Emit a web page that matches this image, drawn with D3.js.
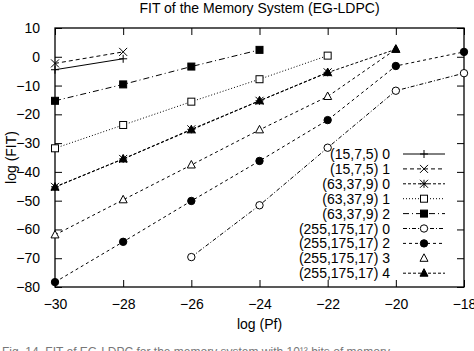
<!DOCTYPE html>
<html>
<head>
<meta charset="utf-8">
<script src="https://cdn.jsdelivr.net/npm/d3@7"></script>
<style>
  body { margin: 0; background: #fff; }
  svg { display: block; font-family: "Liberation Sans", Arial, sans-serif; }
</style>
</head>
<body>
<div id="chart"></div>
<script>
// values
const xTicks = [-30, -28, -26, -24, -22, -20, -18];
const yTicks = [10, 0, -10, -20, -30, -40, -50, -60, -70, -80];

const seriesNames = ["(15,7,5) 0", "(15,7,5) 1", "(63,37,9) 0", "(63,37,9) 1", "(63,37,9) 2",
    "(255,175,17) 0", "(255,175,17) 2", "(255,175,17) 3", "(255,175,17) 4"];

const seriesX = [
    [-30, -28],
    [-30, -28],
    [-30, -28, -26, -24, -22],
    [-30, -28, -26, -24, -22],
    [-30, -28, -26, -24],
    [-26, -24, -22, -20, -18],
    [-30, -28, -26, -24, -22, -20, -18],
    [-30, -28, -26, -24, -22, -20],
    [-30, -28, -26, -24, -22, -20]
];
const seriesY = [
    [-4.5, -0.7],
    [-2.3, 1.7],
    [-45.2, -35.5, -25.2, -15.3, -5.4],
    [-31.8, -23.7, -15.6, -7.8, 0.4],
    [-15.3, -9.6, -3.4, 2.4],
    [-69.6, -51.6, -31.6, -11.8, -5.7],
    [-78.3, -64.3, -50.1, -36.2, -22, -3.2, 1.7],
    [-61.9, -49.7, -37.6, -25.4, -13.8, 2.6],
    [-45.3, -35.5, -25.4, -15.3, -5.5, 2.6]
];

// style per series (gnuplot-ish monochrome)
const markers = ["plus", "cross", "star", "square", "squareFill", "circle", "circleFill", "tri", "triFill"];
const dashes = [null, "4,3", "3,2", "1,2", "6,3,1,3", "4,2,1,2", "3,3", "3,3", "3,2"];
const legendLine = [true, true, true, true, true, true, true, false, true];

const W = 474, H = 351;
const margin = {top: 28, right: 10, bottom: 64, left: 55};
const width = W - margin.left - margin.right,
    height = H - margin.top - margin.bottom;

const svg = d3.select("#chart").append("svg")
    .attr("width", W)
    .attr("height", H);

const x = d3.scaleLinear().domain([-30, -18]).range([margin.left, margin.left + width]);
const y = d3.scaleLinear().domain([-80, 10]).range([margin.top + height, margin.top]);

svg.append("text")
    .attr("x", (margin.left + margin.left + width) / 2)
    .attr("y", 13)
    .attr("text-anchor", "middle")
    .attr("font-size", 14)
    .text("FIT of the Memory System (EG-LDPC)");

// axes: ticks inside, mirrored
const tickLen = 7;
svg.append("g")
    .attr("transform", `translate(0,${margin.top + height})`)
    .call(d3.axisBottom(x).tickValues(xTicks).tickSizeInner(-tickLen).tickSizeOuter(0).tickPadding(12))
    .call(g => g.select(".domain").remove())
    .call(g => g.selectAll("text").attr("font-size", 14).attr("fill", "#000").attr("font-family", null));
svg.append("g")
    .attr("transform", `translate(0,${margin.top})`)
    .call(d3.axisTop(x).tickValues(xTicks).tickSizeInner(-tickLen).tickSizeOuter(0).tickFormat(""))
    .call(g => g.select(".domain").remove());
svg.append("g")
    .attr("transform", `translate(${margin.left},0)`)
    .call(d3.axisLeft(y).tickValues(yTicks).tickSizeInner(-tickLen).tickSizeOuter(0).tickPadding(15))
    .call(g => g.select(".domain").remove())
    .call(g => g.selectAll("text").attr("font-size", 14).attr("fill", "#000").attr("font-family", null));
svg.append("g")
    .attr("transform", `translate(${margin.left + width},0)`)
    .call(d3.axisRight(y).tickValues(yTicks).tickSizeInner(-tickLen).tickSizeOuter(0).tickFormat(""))
    .call(g => g.select(".domain").remove());

svg.append("rect")
    .attr("x", margin.left).attr("y", margin.top)
    .attr("width", width).attr("height", height)
    .attr("fill", "none").attr("stroke", "#000").attr("stroke-width", 1.3);

// axis labels
svg.append("text")
    .attr("x", (margin.left + margin.left + width) / 2)
    .attr("y", 329)
    .attr("text-anchor", "middle")
    .attr("font-size", 14)
    .text("log (Pf)");
svg.append("text")
    .attr("transform", `translate(16,${margin.top + height / 2}) rotate(-90)`)
    .attr("text-anchor", "middle")
    .attr("font-size", 14)
    .text("log (FIT)");

// caption cut off at the bottom
svg.append("text")
    .attr("x", 2)
    .attr("y", 356)
    .attr("font-size", 12)
    .attr("fill", "#777")
    .text("Fig. 14.  FIT of EG-LDPC for the memory system with 10¹² bits of memory");

function drawMarker(g, type, cx, cy) {
    const s = 4;
    const stroke = "#000";
    if (type === "plus" || type === "star") {
        g.append("path").attr("d", `M${cx - s},${cy}H${cx + s}M${cx},${cy - s}V${cy + s}`)
            .attr("stroke", stroke).attr("fill", "none");
    }
    if (type === "cross" || type === "star") {
        g.append("path").attr("d", `M${cx - s},${cy - s}L${cx + s},${cy + s}M${cx - s},${cy + s}L${cx + s},${cy - s}`)
            .attr("stroke", stroke).attr("fill", "none");
    }
    if (type === "square" || type === "squareFill") {
        g.append("rect").attr("x", cx - 3.5).attr("y", cy - 3.5).attr("width", 7).attr("height", 7)
            .attr("stroke", stroke).attr("fill", type === "squareFill" ? "#000" : "#fff");
    }
    if (type === "circle" || type === "circleFill") {
        g.append("circle").attr("cx", cx).attr("cy", cy).attr("r", 3.7)
            .attr("stroke", stroke).attr("fill", type === "circleFill" ? "#000" : "#fff");
    }
    if (type === "tri" || type === "triFill") {
        g.append("path").attr("d", `M${cx},${cy - 4.5}L${cx + 4},${cy + 3}L${cx - 4},${cy + 3}Z`)
            .attr("stroke", stroke).attr("fill", type === "triFill" ? "#000" : "#fff");
    }
}

const line = d3.line().x(d => x(d[0])).y(d => y(d[1]));

const plot = svg.append("g");
seriesNames.forEach((name, i) => {
    const pts = seriesX[i].map((v, j) => [v, seriesY[i][j]]);
    plot.append("path")
        .datum(pts)
        .attr("d", line)
        .attr("fill", "none")
        .attr("stroke", "#000")
        .attr("stroke-width", 1)
        .attr("stroke-dasharray", dashes[i]);
});
seriesNames.forEach((name, i) => {
    const g = plot.append("g");
    seriesX[i].forEach((v, j) => drawMarker(g, markers[i], x(v), y(seriesY[i][j])));
});

// legend
const legend = svg.append("g");
const legX = 390, legY = 154, legStep = 14.9;
seriesNames.forEach((name, i) => {
    const ly = legY + i * legStep;
    legend.append("text")
        .attr("x", legX)
        .attr("y", ly + 5)
        .attr("text-anchor", "end")
        .attr("font-size", 14)
        .text(name);
    if (legendLine[i]) {
        legend.append("line")
            .attr("x1", 403).attr("x2", 445)
            .attr("y1", ly).attr("y2", ly)
            .attr("stroke", "#000")
            .attr("stroke-dasharray", dashes[i]);
    }
    drawMarker(legend, markers[i], 424, ly);
});
</script>
</body>
</html>
